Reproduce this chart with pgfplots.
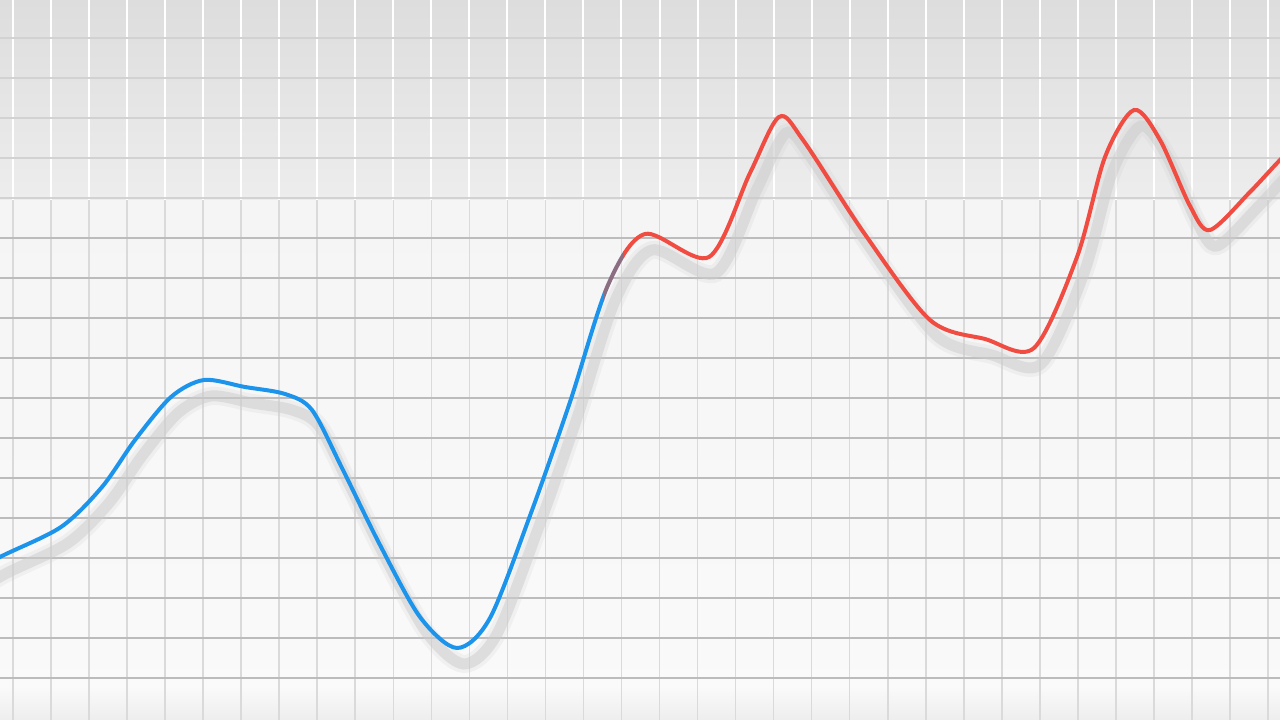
\documentclass[border=0pt]{standalone}
\usepackage{pgfplots}
\usepackage{pgfplotstable}
\pgfplotsset{compat=1.18}
\definecolor{lineblue}{RGB}{28,148,236}
\definecolor{linered}{RGB}{240,76,66}
\definecolor{linemid}{RGB}{140,110,130}
\definecolor{bandtop}{RGB}{221,221,221}
\definecolor{bandbot}{RGB}{237,237,237}
\definecolor{lowtop}{RGB}{245,245,245}
\definecolor{lowbot}{RGB}{250,250,250}
\definecolor{hgrid}{RGB}{188,188,188}
\definecolor{vgrid}{RGB}{218,218,218}
\definecolor{bandgrid}{RGB}{210,210,210}
\pgfplotstableread{
x y
-40 140
0 163
61 193
102 233
135 280
171 323
204 340
245 333
285 326
312 310
342 252
380 175
420 103
457 72
490 102
531 207
570 318
608 435
645 486
709 463
750 547
779 603
803 580
864 487
930 400
985 381
1034 372
1077 463
1105 563
1134 610
1160 580
1190 514
1210 490
1250 528
1280 560
1320 600
}\curve
\begin{document}
\begin{tikzpicture}
\begin{axis}[width=1280pt,height=720pt,scale only axis,
  xmin=0,xmax=1280,ymin=0,ymax=720,axis lines=none,clip=true]
% backgrounds
\fill[top color=lowtop,bottom color=lowbot] (axis cs:0,0) rectangle (axis cs:1280,520);
\fill[top color=lowbot,bottom color=lowtop!97!black] (axis cs:0,0) rectangle (axis cs:1280,34);
\fill[top color=bandtop,bottom color=bandbot] (axis cs:0,520) rectangle (axis cs:1280,720);
% vertical grid
\pgfplotsinvokeforeach{0,...,33}{
  \draw[vgrid,line width=1.6pt] (axis cs:{13+38.03*#1},0) -- (axis cs:{13+38.03*#1},520);
  \draw[white,line width=2pt] (axis cs:{13+38.03*#1},520) -- (axis cs:{13+38.03*#1},720);
}
% horizontal grid
\pgfplotsinvokeforeach{0,...,11}{
  \draw[hgrid,line width=1.8pt] (axis cs:0,{42+40*#1}) -- (axis cs:1280,{42+40*#1});
}
\pgfplotsinvokeforeach{12,...,16}{
  \draw[bandgrid,line width=1.6pt] (axis cs:0,{42+40*#1}) -- (axis cs:1280,{42+40*#1});
}
% shadow
\addplot[smooth,draw=black!20,line width=18pt,opacity=0.2] table[x expr=\thisrow{x}+7,y expr=\thisrow{y}-16]{\curve};
\addplot[smooth,draw=black!20,line width=11pt,opacity=0.5] table[x expr=\thisrow{x}+7,y expr=\thisrow{y}-16]{\curve};
% curve
\begin{scope}
\clip (axis cs:0,0) rectangle (axis cs:604,720);
\addplot[smooth,draw=lineblue,line width=4pt] table{\curve};
\end{scope}
\begin{scope}
\clip (axis cs:604,0) rectangle (axis cs:624,720);
\addplot[smooth,draw=linemid,line width=4pt] table{\curve};
\end{scope}
\begin{scope}
\clip (axis cs:624,0) rectangle (axis cs:1280,720);
\addplot[smooth,draw=linered,line width=4pt] table{\curve};
\end{scope}
\end{axis}
\end{tikzpicture}
\end{document}
